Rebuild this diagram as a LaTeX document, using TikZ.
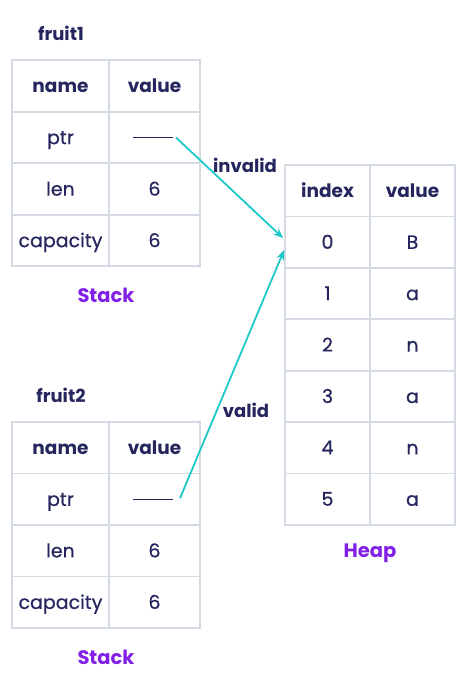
\documentclass[tikz,border=0pt]{standalone}
\usepackage{fontspec}
\setmainfont{Poppins}
\newfontfamily\medfont{Poppins}[FakeBold=0.5]
\usetikzlibrary{arrows.meta,calc}
\definecolor{ink}{HTML}{25265E}
\definecolor{gridc}{HTML}{D3DAE2}
\definecolor{tealc}{HTML}{1CC8C8}
\definecolor{purp}{HTML}{8220E8}
\tikzset{
  cell/.style={draw=gridc,line width=1.8pt,inner sep=0pt,minimum height=51.5pt,text=ink,
    text height=13.3pt,text depth=0pt,font=\medfont\fontsize{19}{22}\selectfont},
  head/.style={cell,text height=13pt,font=\fontsize{18.5}{22}\selectfont\bfseries},
  lcol/.style={minimum width=97pt},
  rcol/.style={minimum width=91pt},
  hcol/.style={minimum width=85pt,minimum height=51.4pt},
  tlabel/.style={text=ink,font=\fontsize{18}{22}\selectfont\bfseries},
  sect/.style={text=purp,font=\fontsize{19.5}{22}\selectfont\bfseries},
  dashmark/.style={draw=ink,line width=1.2pt},
  pointer/.style={draw=tealc,line width=1.8pt,-{Stealth[length=10pt,width=8pt]}}
}
\begin{document}
\begin{tikzpicture}[x=1pt,y=-1pt]
\useasboundingbox (0,0) rectangle (474,689);
% fruit1
\node[tlabel] (t1) at (61,33) {fruit1};
\node[head,lcol] (f1n0) at (60.5,86) {name};
\node[head,rcol] (f1v0) at (154.5,86) {value};
\node[cell,lcol] (f1n1) at (60.5,137.5) {ptr};
\node[cell,rcol] (f1v1) at (154.5,137.5) {};
\node[cell,lcol] (f1n2) at (60.5,189) {len};
\node[cell,rcol] (f1v2) at (154.5,189) {6};
\node[cell,lcol] (f1n3) at (60.5,240.5) {capacity};
\node[cell,rcol] (f1v3) at (154.5,240.5) {6};
\node[sect] (s1) at (106,295) {Stack};
% fruit2
\node[tlabel] (t2) at (61,395) {fruit2};
\node[head,lcol] (f2n0) at (60.5,447.75) {name};
\node[head,rcol] (f2v0) at (154.5,447.75) {value};
\node[cell,lcol] (f2n1) at (60.5,499.25) {ptr};
\node[cell,rcol] (f2v1) at (154.5,499.25) {};
\node[cell,lcol] (f2n2) at (60.5,550.75) {len};
\node[cell,rcol] (f2v2) at (154.5,550.75) {6};
\node[cell,lcol] (f2n3) at (60.5,602.25) {capacity};
\node[cell,rcol] (f2v3) at (154.5,602.25) {6};
\node[sect] (s2) at (106,657) {Stack};
% heap
\node[head,hcol] (hih) at (327.5,190.7) {index};
\node[head,hcol] (hvh) at (412.5,190.7) {value};
\foreach \i/\v in {0/B,1/a,2/n,3/a,4/n,5/a}{
  \node[cell,hcol] (hi\i) at (327.5,242.1+51.4*\i) {\i};
  \node[cell,hcol] (hv\i) at (412.5,242.1+51.4*\i) {\v};
}
\node[sect] (s3) at (370,553) {Heap};
% pointer dashes
\draw[dashmark] ($(f1v1.center)+(-21.5,0)$) -- ($(f1v1.center)+(18.5,0)$);
\draw[dashmark] ($(f2v1.center)+(-21.5,0)$) -- ($(f2v1.center)+(18.5,0)$);
\coordinate (p1) at ($(f1v1.center)+(21.5,0)$);
\coordinate (p2) at ($(f2v1.center)+(25.5,-1)$);
\coordinate (e1) at ($(hi0.west)+(-1,-4)$);
\coordinate (e2) at ($(hi0.west)+(0,8)$);
\draw[pointer] (p1) -- (e1);
\draw[pointer] (p2) -- (e2);
\node[tlabel] (l1) at (245,165) {invalid};
\node[tlabel] (l2) at (246,410) {valid};
\end{tikzpicture}
\end{document}
